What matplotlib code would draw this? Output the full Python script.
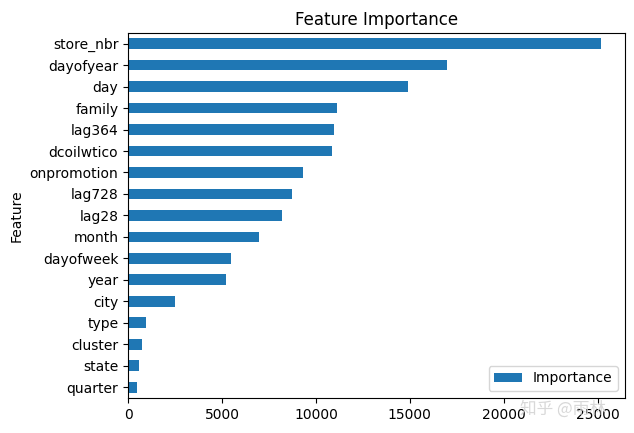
import matplotlib
matplotlib.use("Agg")
import matplotlib.pyplot as plt
import pandas as pd

# ── Data ─────────────────────────────────────────────────────────
features = ["store_nbr", "dayofyear", "day", "family", "lag364", "dcoilwtico",
            "onpromotion", "lag728", "lag28", "month", "dayofweek", "year",
            "city", "type", "cluster", "state", "quarter"]
importance = [25200, 17000, 14900, 11100, 10970, 10830,
              9330, 8730, 8210, 6960, 5490, 5220,
              2490, 980, 730, 570, 460]

df = pd.DataFrame({"Feature": features, "Importance": importance})
df = df.sort_values("Importance").set_index("Feature")

fig, ax = plt.subplots(figsize=(6.34, 4.33), dpi=100)
df.plot.barh(ax=ax, color="#1f77b4")
ax.set_title("Feature Importance")
ax.legend(loc="lower right")

# faint site watermark seen in the reference
fig.text(0.82, 0.055, "知乎 @雨林", color="#d8d8d8", fontsize=12,
         family=["Noto Sans CJK SC", "DejaVu Sans"], ha="left", va="center")

fig.subplots_adjust(left=0.202, right=0.986, top=0.924, bottom=0.081)
fig.savefig("out.png", dpi=100)
